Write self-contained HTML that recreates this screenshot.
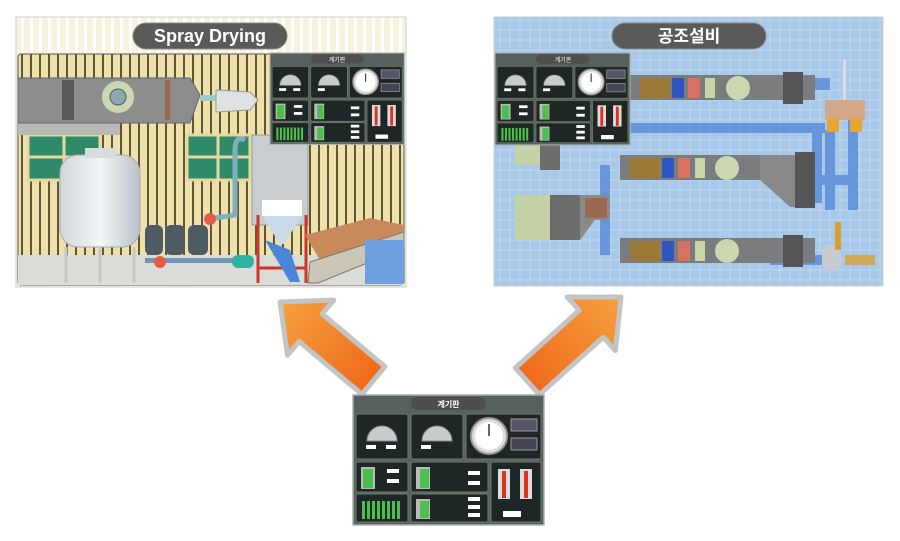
<!DOCTYPE html>
<html><head><meta charset="utf-8"><style>
html,body{margin:0;padding:0;background:#fff;width:900px;height:541px;overflow:hidden}
text{font-family:"Liberation Sans","Noto Sans CJK KR",sans-serif}
</style></head><body>
<svg width="900" height="541" viewBox="0 0 900 541" xmlns="http://www.w3.org/2000/svg">
<defs>
<pattern id="stripeL" width="9" height="10" patternUnits="userSpaceOnUse"><rect width="9" height="10" fill="#efe1ac"/><rect x="3" width="2" height="10" fill="#5f5638"/></pattern>
<pattern id="stripeTop" width="9" height="10" patternUnits="userSpaceOnUse"><rect width="9" height="10" fill="#f7f3df"/><rect x="3" width="3" height="10" fill="#fff"/></pattern>
<pattern id="tile" width="10" height="10" patternUnits="userSpaceOnUse"><rect width="10" height="10" fill="#a7c8e8"/><rect width="10" height="10" fill="none" stroke="#c2dbf2" stroke-width="0.8"/></pattern>
<linearGradient id="og" x1="0" y1="0" x2="0" y2="1"><stop offset="0" stop-color="#f6a040"/><stop offset="1" stop-color="#ef6a1c"/></linearGradient>
<linearGradient id="tank" x1="0" x2="1"><stop offset="0" stop-color="#cfd6da"/><stop offset=".5" stop-color="#f4f6f7"/><stop offset="1" stop-color="#b9c2c8"/></linearGradient>
<g id="dash">
 <rect x="0" y="0" width="191" height="130" fill="#56605f" stroke="#a9b1b1" stroke-width="1.5"/>
 <rect x="58" y="2" width="75" height="13" rx="6.5" fill="#4e4e4e"/>
 <g fill="#1f2626" stroke="#6f7f66" stroke-width="1">
  <rect x="3" y="19" width="52" height="45" rx="2"/><rect x="58" y="19" width="52" height="45" rx="2"/><rect x="113" y="19" width="75" height="45" rx="2"/>
  <rect x="3" y="67" width="52" height="30" rx="2"/><rect x="58" y="67" width="77" height="30" rx="2"/><rect x="138" y="67" width="50" height="60" rx="2"/>
  <rect x="3" y="99" width="52" height="28" rx="2"/><rect x="58" y="99" width="77" height="28" rx="2"/>
 </g>
 <path d="M14,46 A15,15 0 0 1 44,46 Z" fill="#c9cccc" stroke="#888"/><path d="M69,46 A15,15 0 0 1 99,46 Z" fill="#c9cccc" stroke="#888"/>
 <g fill="#fff"><rect x="13" y="50" width="10" height="4"/><rect x="33" y="50" width="10" height="4"/><rect x="68" y="50" width="10" height="4"/></g>
 <circle cx="136" cy="41" r="18" fill="#ddd" stroke="#999" stroke-width="2"/><circle cx="136" cy="41" r="14" fill="#fff"/>
 <line x1="136" y1="41" x2="136" y2="29" stroke="#333" stroke-width="1.5"/>
 <rect x="158" y="24" width="26" height="12" fill="#556" stroke="#999"/><rect x="158" y="43" width="26" height="12" fill="#445" stroke="#999"/>
 <rect x="8" y="72" width="14" height="22" fill="#bbb"/><rect x="10" y="74" width="10" height="19" fill="#4cc04c"/>
 <rect x="63" y="72" width="14" height="22" fill="#bbb"/><rect x="67" y="74" width="9" height="19" fill="#4cc04c"/>
 <rect x="63" y="104" width="14" height="20" fill="#bbb"/><rect x="67" y="106" width="9" height="17" fill="#4cc04c"/>
 <g fill="#4cc04c"><rect x="9" y="106" width="3" height="18"/><rect x="14" y="106" width="3" height="18"/><rect x="19" y="106" width="3" height="18"/><rect x="24" y="106" width="3" height="18"/><rect x="29" y="106" width="3" height="18"/><rect x="34" y="106" width="3" height="18"/><rect x="39" y="106" width="3" height="18"/><rect x="44" y="106" width="3" height="18"/></g>
 <g fill="#fff"><rect x="34" y="74" width="12" height="4"/><rect x="34" y="84" width="12" height="4"/><rect x="115" y="76" width="12" height="4"/><rect x="115" y="86" width="12" height="4"/><rect x="115" y="102" width="12" height="4"/><rect x="115" y="110" width="12" height="4"/><rect x="115" y="118" width="12" height="4"/><rect x="150" y="116" width="18" height="6"/></g>
 <rect x="145" y="74" width="12" height="30" fill="#ddd"/><rect x="149" y="76" width="4" height="27" fill="#e03020"/>
 <rect x="167" y="74" width="12" height="30" fill="#ddd"/><rect x="171" y="76" width="4" height="27" fill="#e03020"/>
</g>
</defs>

<!-- LEFT PANEL -->
<rect x="16" y="17" width="390" height="270" fill="url(#stripeTop)" stroke="#cfcfcf"/>
<rect x="18" y="54" width="386" height="231" rx="3" fill="url(#stripeL)" stroke="#555"/>
<rect x="18" y="255" width="386" height="30" fill="#dcdcd6"/>
<rect x="28" y="135" width="72" height="45" fill="#2f8a6a" stroke="#e6d9a0" stroke-width="3"/><line x1="64" y1="135" x2="64" y2="180" stroke="#e6d9a0" stroke-width="3"/><line x1="28" y1="157" x2="100" y2="157" stroke="#e6d9a0" stroke-width="3"/>
<rect x="187" y="135" width="63" height="45" fill="#2f8a6a" stroke="#e6d9a0" stroke-width="3"/><line x1="218" y1="135" x2="218" y2="180" stroke="#e6d9a0" stroke-width="3"/><line x1="187" y1="157" x2="250" y2="157" stroke="#e6d9a0" stroke-width="3"/>
<rect x="18" y="123" width="102" height="12" fill="#b8b8b4"/>
<polygon points="18,78 190,78 200,95 190,123 18,123" fill="#8d8d8d" stroke="#666"/>
<rect x="62" y="80" width="12" height="40" fill="#5a5a5a"/><rect x="165" y="80" width="5" height="40" fill="#9a6a50"/>
<circle cx="118" cy="97" r="16" fill="#cbd7b0"/><circle cx="118" cy="97" r="8" fill="#8aa" stroke="#557"/>
<rect x="200" y="95" width="18" height="6" fill="#9cc"/>
<polygon points="216,90 250,92 258,100 250,110 216,112" fill="#dfe2e3" stroke="#999"/>
<path d="M245,140 Q235,135 235,150 L235,215 L215,218" fill="none" stroke="#7fb0bd" stroke-width="5"/>
<rect x="60" y="155" width="80" height="92" rx="18" fill="url(#tank)" stroke="#aab"/>
<rect x="85" y="148" width="30" height="10" fill="#d6dde0"/>
<g stroke="#c4c8ca" stroke-width="3"><line x1="66" y1="247" x2="66" y2="283"/><line x1="100" y1="247" x2="100" y2="283"/><line x1="134" y1="247" x2="134" y2="283"/></g>
<g fill="#4e5a64"><rect x="145" y="225" width="18" height="30" rx="6"/><rect x="165" y="225" width="20" height="30" rx="6"/><rect x="188" y="225" width="20" height="30" rx="6"/></g>
<rect x="145" y="258" width="100" height="5" fill="#6a9ab8"/>
<circle cx="160" cy="262" r="6" fill="#e55b45"/><circle cx="210" cy="219" r="6" fill="#e55b45"/>
<rect x="232" y="255" width="22" height="13" rx="6" fill="#2fb3a0"/>
<rect x="252" y="135" width="56" height="90" fill="#c8cdd0" stroke="#999"/>
<rect x="262" y="200" width="40" height="16" fill="#fff"/>
<polygon points="262,216 302,216 284,244 280,244" fill="#c9dbe8"/>
<g stroke="#c8382c" stroke-width="3" fill="none"><line x1="258" y1="215" x2="258" y2="283"/><line x1="306" y1="215" x2="306" y2="283"/><line x1="258" y1="268" x2="306" y2="268"/></g>
<polygon points="265,240 290,250 300,282 290,282" fill="#4a86d8"/>
<polygon points="305,235 370,218 404,225 404,240 320,260" fill="#c88a5a"/>
<polygon points="310,262 404,232 404,248 318,283 308,283" fill="#ccc6b6" stroke="#777"/>
<rect x="365" y="240" width="39" height="44" fill="#6e9fe0"/>
<rect x="133" y="23" width="154" height="26" rx="13" fill="#5a5a5a" stroke="#888"/>
<text x="210" y="42" font-size="18" font-weight="bold" fill="#fff" text-anchor="middle">Spray Drying</text>
<use href="#dash" transform="translate(270,53) scale(0.703)"/>
<text x="337" y="62" font-size="6" fill="#fff" text-anchor="middle">계기판</text>

<!-- RIGHT PANEL -->
<rect x="494" y="17" width="389" height="269" fill="url(#tile)" stroke="#cfcfcf"/>
<g fill="#4f84d6" opacity=".75">
<rect x="770" y="78" width="60" height="12"/><rect x="630" y="123" width="195" height="10"/>
<rect x="600" y="165" width="10" height="90"/><rect x="812" y="123" width="10" height="80"/>
<rect x="825" y="130" width="10" height="80"/><rect x="848" y="120" width="10" height="90"/>
<rect x="770" y="255" width="60" height="10"/><rect x="820" y="175" width="30" height="10"/>
</g>
<g>
<rect x="630" y="75" width="185" height="25" fill="#7a7c7e"/>
<rect x="640" y="78" width="30" height="20" fill="#9b7a35"/><rect x="672" y="78" width="12" height="20" fill="#2f55c0"/><rect x="688" y="78" width="12" height="20" fill="#d97060"/>
<rect x="705" y="78" width="10" height="20" fill="#c9d6a8"/><circle cx="738" cy="88" r="12" fill="#cbd7b0"/><rect x="783" y="72" width="20" height="32" fill="#555"/>
<rect x="620" y="155" width="160" height="25" fill="#7a7c7e"/>
<polygon points="760,155 810,155 810,207 790,207 760,180" fill="#888"/>
<rect x="630" y="158" width="30" height="20" fill="#9b7a35"/><rect x="662" y="158" width="12" height="20" fill="#2f55c0"/><rect x="678" y="158" width="12" height="20" fill="#d97060"/>
<rect x="695" y="158" width="10" height="20" fill="#c9d6a8"/><circle cx="727" cy="168" r="12" fill="#cbd7b0"/><rect x="795" y="152" width="20" height="56" fill="#555"/>
<rect x="620" y="238" width="195" height="25" fill="#7a7c7e"/>
<rect x="630" y="241" width="30" height="20" fill="#9b7a35"/><rect x="662" y="241" width="12" height="20" fill="#2f55c0"/><rect x="678" y="241" width="12" height="20" fill="#d97060"/>
<rect x="695" y="241" width="10" height="20" fill="#c9d6a8"/><circle cx="727" cy="251" r="12" fill="#cbd7b0"/><rect x="783" y="235" width="20" height="32" fill="#555"/>
<rect x="515" y="195" width="35" height="45" fill="#c5d2a6"/><rect x="550" y="195" width="30" height="45" fill="#6d6d6d"/><polygon points="580,195 610,195 610,220 595,220 580,240" fill="#8a8a8a"/><rect x="585" y="198" width="22" height="20" fill="#9a6a50"/>
<rect x="515" y="145" width="25" height="20" fill="#c5d2a6"/><rect x="540" y="145" width="20" height="25" fill="#6d6d6d"/>
<rect x="825" y="100" width="40" height="20" fill="#d4a68a"/><rect x="827" y="118" width="12" height="14" fill="#e8a630"/><rect x="850" y="118" width="12" height="14" fill="#e8a630"/><rect x="843" y="60" width="3" height="40" fill="#ddd"/>
<rect x="822" y="245" width="18" height="25" rx="6" fill="#c8ccd0"/><rect x="835" y="222" width="6" height="28" fill="#d8a030"/><rect x="845" y="255" width="30" height="10" fill="#d8a030" opacity=".8"/>
</g>
<rect x="612" y="23" width="154" height="26" rx="13" fill="#5a5a5a" stroke="#888"/>
<text x="689" y="42" font-size="17" font-weight="bold" fill="#fff" text-anchor="middle">공조설비</text>
<use href="#dash" transform="translate(495,53) scale(0.707)"/>
<text x="563" y="62" font-size="6" fill="#fff" text-anchor="middle">계기판</text>

<!-- ARROWS -->
<g stroke="#c4c4c4" stroke-width="5" stroke-linejoin="round" fill="url(#og)">
<polygon transform="translate(280,302) rotate(-50)" points="0,0 36,40 18,40 18,122 -18,122 -18,40 -36,40"/>
<polygon transform="translate(621,297) rotate(48)" points="0,0 36,40 18,40 18,126 -18,126 -18,40 -36,40"/>
</g>

<!-- BOTTOM DASH -->
<use href="#dash" transform="translate(353,395)"/>
<text x="448.5" y="407" font-size="8" font-weight="bold" fill="#fff" text-anchor="middle">계기판</text>
</svg>
</body></html>
